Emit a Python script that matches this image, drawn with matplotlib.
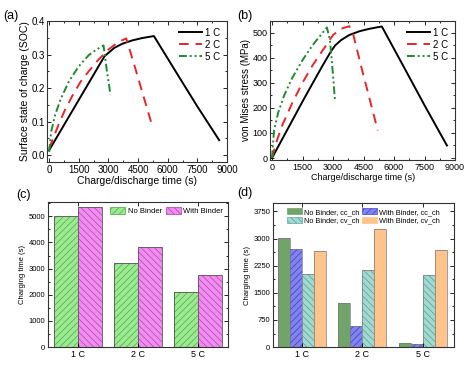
import matplotlib
matplotlib.use("Agg")
import matplotlib.pyplot as plt
from matplotlib.patches import Patch
from matplotlib.ticker import MultipleLocator, AutoMinorLocator
import numpy as np

plt.rcParams['font.family'] = ['Liberation Sans', 'DejaVu Sans']
plt.rcParams['hatch.linewidth'] = 0.6

# ---- Panel (a): surface SOC ----
t_1c_a = [0, 500, 1000, 1500, 2000, 2500, 2800, 3000, 3300, 3700, 4200, 4700, 5300, 6500, 7500, 8600]
soc_1c = [0.015, 0.065, 0.115, 0.165, 0.215, 0.265, 0.295, 0.305, 0.32, 0.332, 0.342, 0.349, 0.355, 0.24, 0.145, 0.045]
t_2c_a = [0, 200, 500, 800, 1200, 1600, 2000, 2500, 3000, 3500, 3900, 4300, 4700, 5200]
soc_2c = [0.02, 0.05, 0.095, 0.135, 0.18, 0.22, 0.25, 0.285, 0.315, 0.337, 0.348, 0.27, 0.19, 0.09]
t_5c_a = [0, 100, 300, 600, 1000, 1500, 2000, 2400, 2750, 2900, 3100]
soc_5c = [0.01, 0.07, 0.12, 0.17, 0.22, 0.265, 0.298, 0.315, 0.327, 0.26, 0.18]

# ---- Panel (b): von Mises stress ----
t_1c_b = [0, 500, 1000, 1500, 2000, 2500, 2900, 3100, 3400, 3800, 4300, 4800, 5400, 6500, 7500, 8600]
vm_1c = [0, 75, 150, 225, 298, 370, 425, 448, 470, 490, 505, 515, 524, 360, 210, 50]
t_2c_b = [0, 200, 500, 1000, 1500, 2000, 2500, 3000, 3400, 3800, 4000, 4400, 4800, 5200]
vm_2c = [0, 60, 130, 220, 300, 370, 430, 490, 515, 525, 490, 360, 235, 110]
t_5c_b = [0, 100, 300, 600, 1000, 1500, 2000, 2400, 2700, 2850, 3000, 3100]
vm_5c = [0, 110, 180, 250, 320, 390, 450, 490, 520, 470, 330, 225]

# ---- Panel (c) ----
rates = ['1 C', '2 C', '5 C']
no_binder = [5030, 3230, 2100]
with_binder = [5370, 3820, 2760]

# ---- Panel (d) ----
nb_cc = [3020, 1230, 120]
wb_cc = [2720, 580, 80]
nb_cv = [2020, 2120, 2000]
wb_cv = [2650, 3260, 2690]

fig = plt.figure(figsize=(4.74, 3.81), dpi=100)

def style(ax, fs):
    ax.tick_params(direction='in', which='both', top=True, right=True, labelsize=fs, width=0.6, pad=2)
    ax.tick_params(which='major', length=3)
    ax.tick_params(which='minor', length=1.5)
    for s in ax.spines.values():
        s.set_linewidth(0.8)
        s.set_color('#333333')

# (a)
axa = fig.add_axes([0.100, 0.575, 0.379, 0.370])
axa.plot(t_1c_a, soc_1c, color='black', lw=1.4, label='1 C')
axa.plot(t_2c_a, soc_2c, color='#e8262a', lw=1.4, ls=(0, (5, 3.5)), label='2 C')
axa.plot(t_5c_a, soc_5c, color='#1e8a2e', lw=1.4, ls=(0, (4, 1.5, 1, 1.5, 1, 1.5)), label='5 C')
axa.set_xlim(-90, 9000)
axa.set_ylim(-0.02, 0.4)
axa.xaxis.set_major_locator(MultipleLocator(1500))
axa.yaxis.set_major_locator(MultipleLocator(0.1))
axa.yaxis.set_major_formatter(plt.FormatStrFormatter('%.1f'))
axa.xaxis.set_minor_locator(AutoMinorLocator(2))
axa.yaxis.set_minor_locator(AutoMinorLocator(2))
axa.set_xlabel('Charge/discharge time (s)', fontsize=7.5, labelpad=1)
axa.set_ylabel('Surface state of charge (SOC)', fontsize=7.5, labelpad=1)
style(axa, 7)
axa.legend(loc='upper right', frameon=False, fontsize=7, handlelength=2.4,
           handletextpad=0.3, labelspacing=0.2, borderaxespad=0.3)

# (b)
axb = fig.add_axes([0.570, 0.580, 0.390, 0.365])
axb.plot(t_1c_b, vm_1c, color='black', lw=1.4, label='1 C')
axb.plot(t_2c_b, vm_2c, color='#e8262a', lw=1.4, ls=(0, (5, 3.5)), label='2 C')
axb.plot(t_5c_b, vm_5c, color='#1e8a2e', lw=1.4, ls=(0, (4, 1.5, 1, 1.5, 1, 1.5)), label='5 C')
axb.set_xlim(-90, 9000)
axb.set_ylim(-8, 546)
axb.xaxis.set_major_locator(MultipleLocator(1500))
axb.yaxis.set_major_locator(MultipleLocator(100))
axb.xaxis.set_minor_locator(AutoMinorLocator(2))
axb.yaxis.set_minor_locator(AutoMinorLocator(2))
axb.set_xlabel('Charge/discharge time (s)', fontsize=6.5, labelpad=1)
axb.set_ylabel('von Mises stress (MPa)', fontsize=7, labelpad=1)
style(axb, 6.5)
axb.legend(loc='upper right', frameon=False, fontsize=7, handlelength=2.4,
           handletextpad=0.3, labelspacing=0.2, borderaxespad=0.3)

# (c)
axc = fig.add_axes([0.101, 0.089, 0.380, 0.381])
x = np.arange(len(rates))
w = 0.4
c_specs = [(no_binder, -w / 2, '#9bea92', '#5cb552', '/////', 'No Binder'),
           (with_binder, w / 2, '#f08ef0', '#c04ac0', '\\\\\\\\\\', 'With Binder')]
handles = []
for vals, off, fc, hc, hat, lab in c_specs:
    axc.bar(x + off, vals, w, color=fc, edgecolor=hc, hatch=hat, lw=0)
    axc.bar(x + off, vals, w, fill=False, edgecolor='#555555', lw=0.6)
    handles.append(Patch(facecolor=fc, edgecolor=hc, hatch=hat, lw=0.6, label=lab))
axc.set_xlim(-0.5, 2.5)
axc.set_ylim(0, 5550)
axc.set_xticks(x)
axc.set_xticklabels(rates)
axc.yaxis.set_major_locator(MultipleLocator(1000))
axc.yaxis.set_minor_locator(AutoMinorLocator(2))
axc.set_ylabel('Charging time (s)', fontsize=5.5, labelpad=2)
style(axc, 5.5)
axc.tick_params(axis='x', labelsize=6.5)
axc.tick_params(axis='x', which='minor', bottom=False, top=False)
axc.legend(handles=handles, loc='upper right', ncol=2, frameon=False, fontsize=5.5,
           handlelength=2.0, handleheight=1.0, handletextpad=0.3, columnspacing=0.5,
           borderaxespad=0.25)

# (d)
axd = fig.add_axes([0.576, 0.089, 0.382, 0.378])
wd = 0.2
d_specs = [(nb_cc, -0.3, '#72a36a', '#72a36a', None, 'No Binder, cc_ch'),
           (wb_cc, -0.1, '#8282f0', '#4848c8', '/////', 'With Binder, cc_ch'),
           (nb_cv, 0.1, '#a3d9d0', '#5fa8a0', '\\\\\\\\\\', 'No Binder, cv_ch'),
           (wb_cv, 0.3, '#ffc48c', '#ffc48c', None, 'With Binder, cv_ch')]
hd = {}
for vals, off, fc, hc, hat, lab in d_specs:
    axd.bar(x + off, vals, wd, color=fc, edgecolor=hc, hatch=hat, lw=0)
    axd.bar(x + off, vals, wd, fill=False, edgecolor='#777777', lw=0.5)
    hd[lab] = Patch(facecolor=fc, edgecolor=hc, hatch=hat, lw=0.5, label=lab)
order = ['No Binder, cc_ch', 'No Binder, cv_ch', 'With Binder, cc_ch', 'With Binder, cv_ch']
axd.set_xlim(-0.48, 2.52)
axd.set_ylim(0, 3980)
axd.set_xticks(x)
axd.set_xticklabels(rates)
axd.yaxis.set_major_locator(MultipleLocator(750))
axd.yaxis.set_minor_locator(AutoMinorLocator(2))
axd.set_ylabel('Charging time (s)', fontsize=5.5, labelpad=2)
style(axd, 5.5)
axd.tick_params(axis='x', labelsize=6.5)
axd.tick_params(axis='x', which='minor', bottom=False, top=False)
axd.legend(handles=[hd[k] for k in order], loc='upper center', ncol=2, frameon=False,
           fontsize=5.3, handlelength=2.0, handleheight=0.9, handletextpad=0.3,
           columnspacing=0.3, labelspacing=0.1, borderaxespad=0.3)

# Panel labels
fig.text(0.006, 0.975, '(a)', fontsize=9, va='top')
fig.text(0.500, 0.975, '(b)', fontsize=9, va='top')
fig.text(0.035, 0.505, '(c)', fontsize=9, va='top')
fig.text(0.500, 0.510, '(d)', fontsize=9, va='top')

fig.savefig('out.png', dpi=100)
